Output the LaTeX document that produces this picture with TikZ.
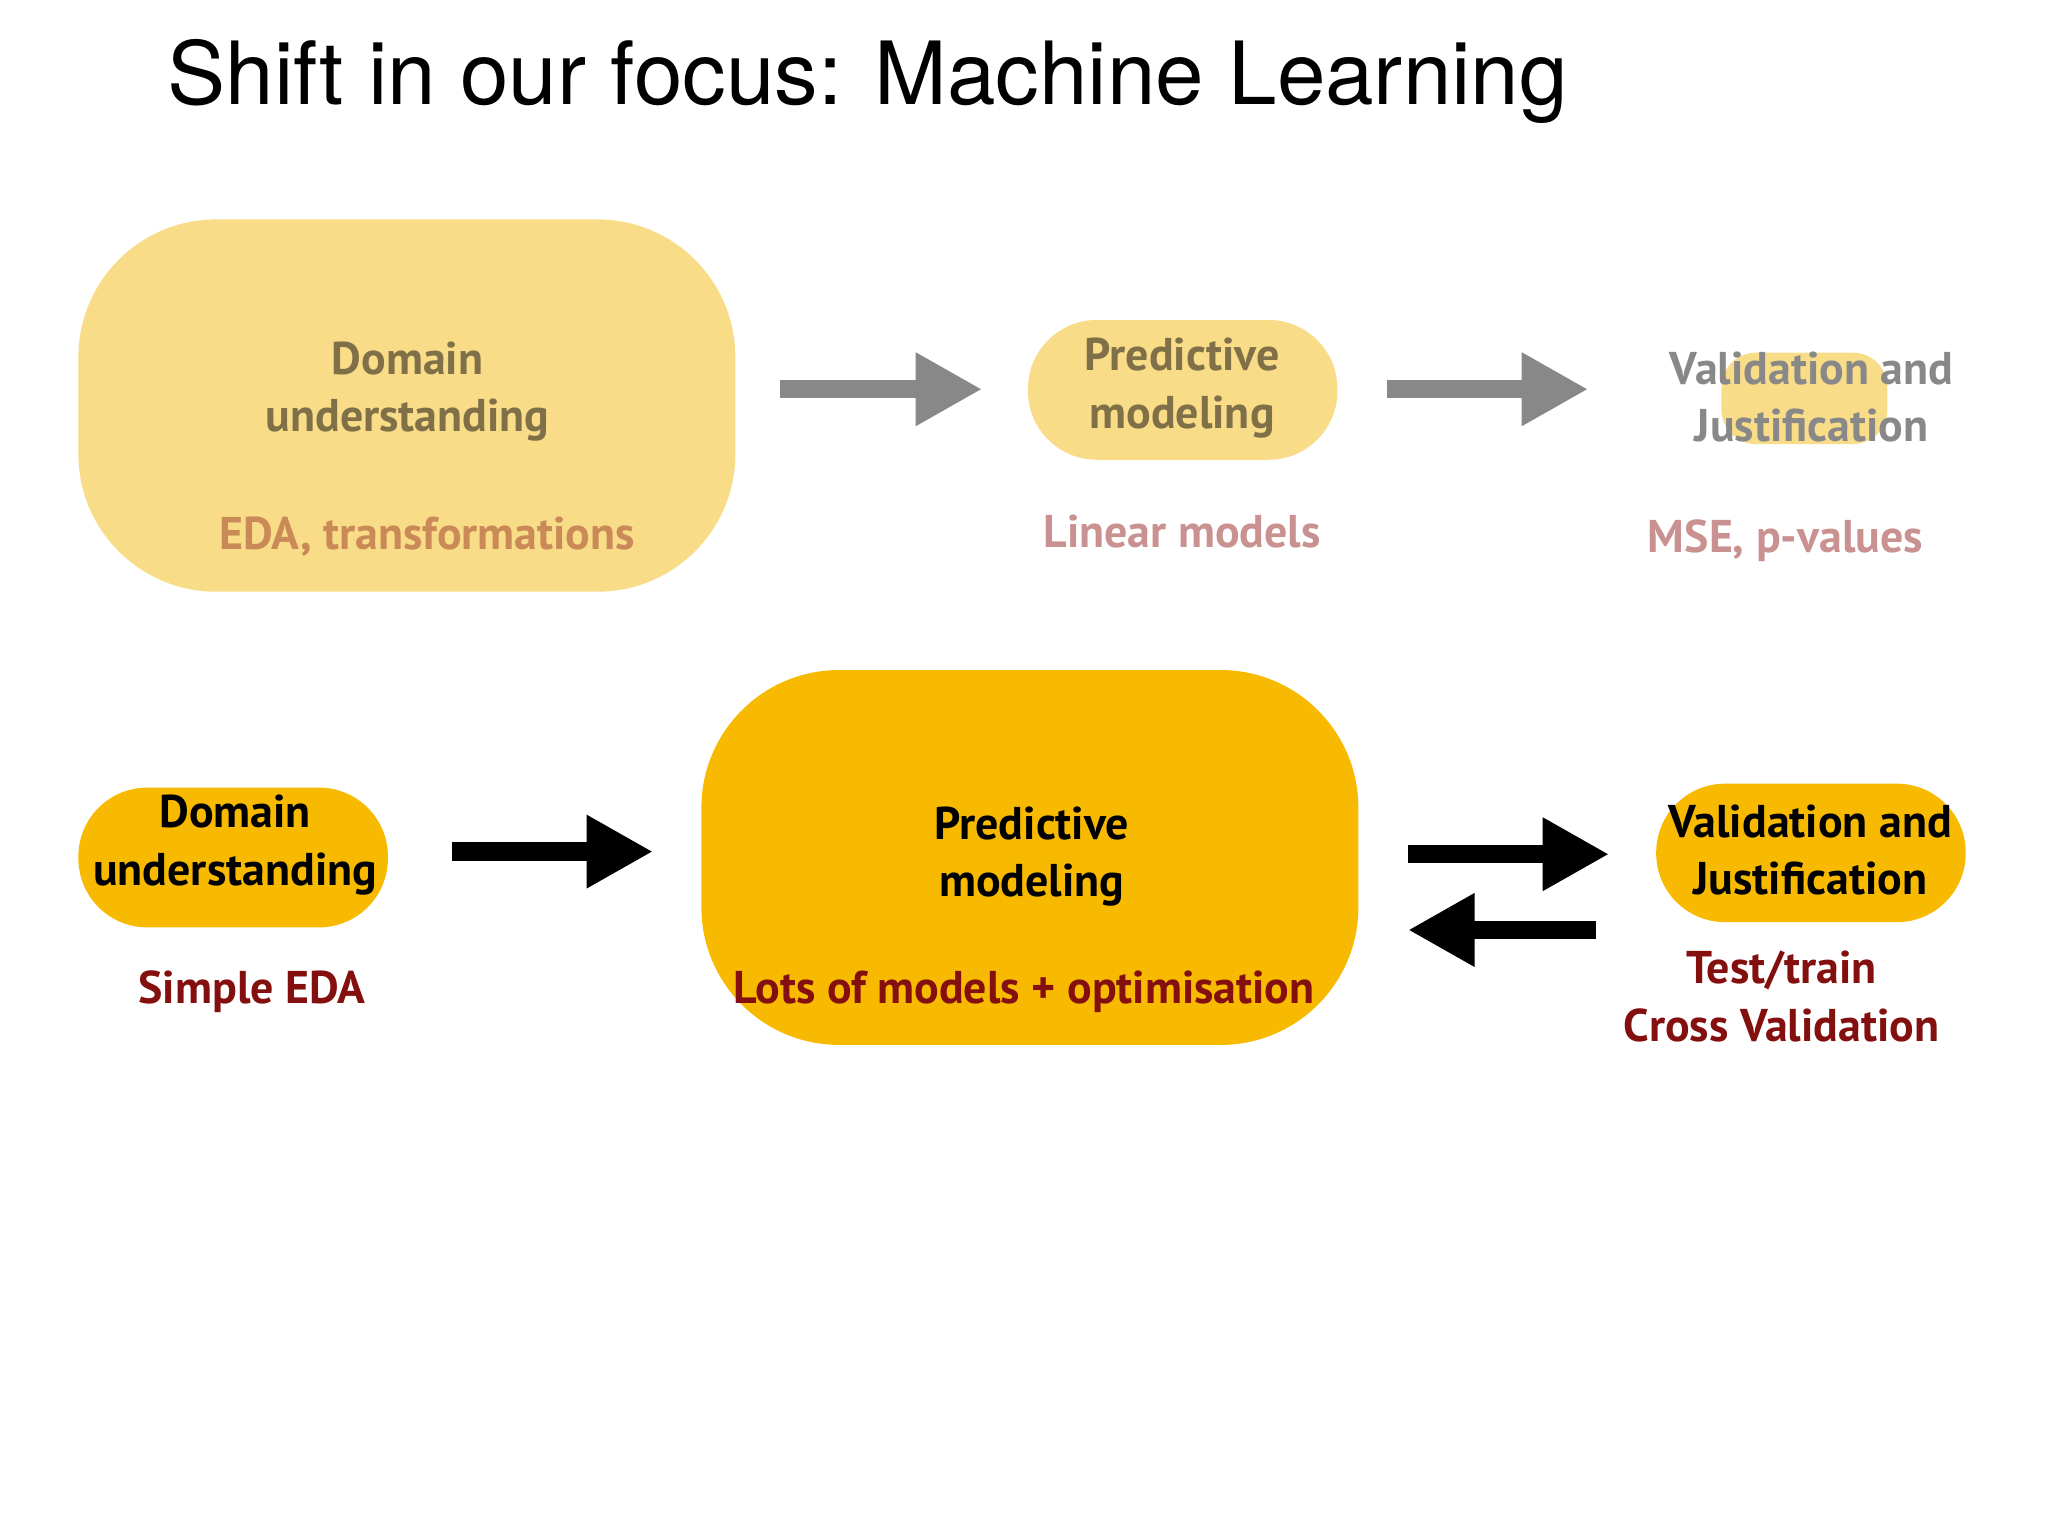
\documentclass[tikz,border=0pt]{standalone}
\usepackage{fontspec}
\setmainfont{PT Sans}
\newfontfamily\titlefont{TeX Gyre Heros}
\usetikzlibrary{arrows.meta}
\definecolor{lightbox}{HTML}{F9DC87}
\definecolor{darkbox}{HTML}{F8BA00}
\definecolor{olivetxt}{HTML}{7F7048}
\definecolor{edatxt}{HTML}{C98A58}
\definecolor{pinktxt}{HTML}{C99290}
\definecolor{redtxt}{HTML}{840F0F}
\definecolor{arrgray}{HTML}{888888}
\begin{document}
\begin{tikzpicture}[x=0.02cm,y=-0.02cm,
  box/.style={rounded corners=#1, inner sep=0pt},
  lbl/.style={font=\fontsize{20}{25}\selectfont\bfseries, align=center},
  arr/.style={line width=8pt, -{Triangle[length=29pt,width=30pt]}},
]
\useasboundingbox (0,0) rectangle (1568,1176);
\node[anchor=west, font=\titlefont\fontsize{38}{44}\selectfont] (title) at (122,62) {Shift in our focus: Machine Learning};
% top row
\fill[lightbox, rounded corners=60] (60,168) rectangle (563,453);
\node[lbl, text=olivetxt] (td) at (312,300) {Domain\\understanding};
\node[lbl, text=edatxt] (teda) at (327,411) {EDA, transformations};
\fill[lightbox, rounded corners=30] (787,245) rectangle (1024,352);
\node[lbl, text=olivetxt] (tp) at (905,297) {Predictive\\modeling};
\node[lbl, text=pinktxt] (tlin) at (905,407) {Linear models};
\fill[lightbox, rounded corners=15] (1318,270) rectangle (1445,340);
\node[lbl, text=arrgray] (tv) at (1387,304) {Validation and\\Justification};
\node[lbl, text=pinktxt] (tmse) at (1367,414) {MSE, p-values};
\coordinate (a1s) at (597,298); \coordinate (a1e) at (752,298);
\coordinate (a2s) at (1062,298); \coordinate (a2e) at (1216,298);
\draw[arr, arrgray] (a1s) -- (a1e);
\draw[arr, arrgray] (a2s) -- (a2e);
% bottom row
\fill[darkbox, rounded corners=30] (60,603) rectangle (297,710);
\node[lbl, text=black] (bd) at (180,647) {Domain\\understanding};
\node[lbl, text=redtxt] (bs) at (193,759) {Simple EDA};
\fill[darkbox, rounded corners=60] (537,513) rectangle (1040,800);
\node[lbl, text=black] (bp) at (790,656) {Predictive\\modeling};
\node[lbl, text=redtxt] (bl) at (784,759) {Lots of models + optimisation};
\fill[darkbox, rounded corners=30] (1268,600) rectangle (1505,706);
\node[lbl, text=black] (bv) at (1386,651) {Validation and\\Justification};
\node[lbl, text=redtxt] (bt) at (1364,763) {Test/train\\Cross Validation};
\coordinate (b1s) at (346,652); \coordinate (b1e) at (500,652);
\coordinate (b2s) at (1078,654); \coordinate (b2e) at (1232,654);
\coordinate (b3s) at (1222,712); \coordinate (b3e) at (1078,712);
\draw[arr, black] (b1s) -- (b1e);
\draw[arr, black] (b2s) -- (b2e);
\draw[arr, black] (b3s) -- (b3e);
\end{tikzpicture}
\end{document}
